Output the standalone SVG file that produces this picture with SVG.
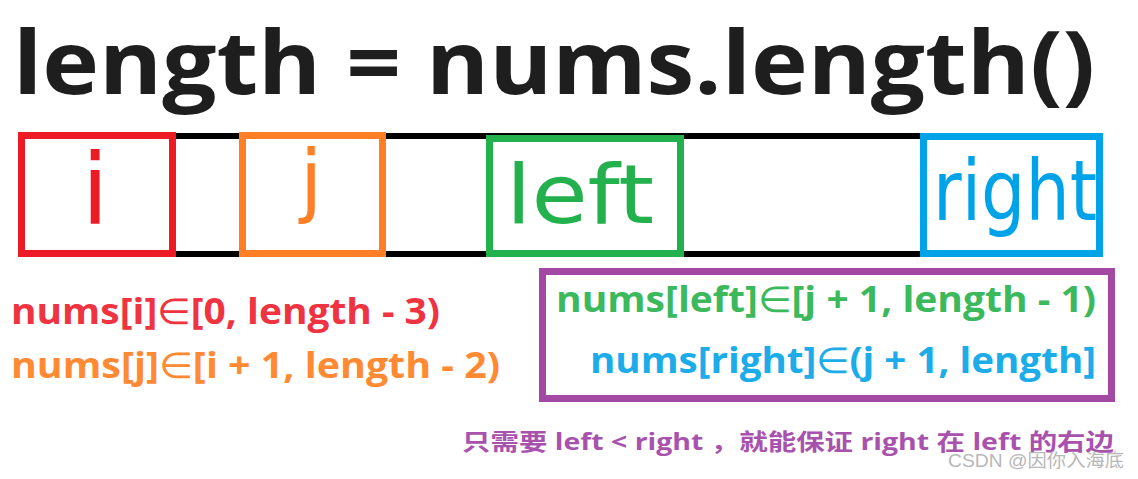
<svg xmlns="http://www.w3.org/2000/svg" width="1138" height="479" viewBox="0 0 1138 479">
  <style>
    .title { font-family: "Open Sans", "Liberation Sans", sans-serif; font-weight: 700; fill: #1e1e1e; }
    .hand { font-family: "DejaVu Sans", sans-serif; font-weight: 400; }
    .expr { font-family: "Open Sans", "Liberation Sans", sans-serif; font-weight: 700; font-size: 36px; }
    .sym { font-weight: 400; }
    .box { fill: none; stroke-width: 7; }
    .note { font-family: "Open Sans", "Noto Sans CJK SC", sans-serif; font-weight: 700; font-size: 23px; fill: #a852ae; }
    .wm { font-family: "Liberation Sans", "Noto Sans CJK SC", sans-serif; font-size: 18px; fill: #b8b8b8; }
  </style>
  <rect width="1138" height="479" fill="#ffffff"/>

  <g id="title">
    <text class="title" x="13" y="94" font-size="88" textLength="1082" lengthAdjust="spacingAndGlyphs">length = nums.length()</text>
  </g>

  <g id="connectors">
    <line x1="18" y1="136" x2="922" y2="136" stroke="#000000" stroke-width="6"/>
    <line x1="18" y1="254" x2="922" y2="254" stroke="#000000" stroke-width="6"/>
  </g>

  <g id="node-i">
    <rect class="box" x="21.5" y="135.5" width="151" height="118" stroke="#ed1c24" fill="#ffffff"/>
    <text class="hand" x="95" y="224" font-size="98" text-anchor="middle" fill="#ed1c24">i</text>
  </g>

  <g id="node-j">
    <rect class="box" x="242.5" y="135.5" width="140" height="118" stroke="#ff7f27" fill="#ffffff"/>
    <text class="hand" x="311" y="207" font-size="80" text-anchor="middle" fill="#ff7f27">j</text>
  </g>

  <g id="node-left">
    <rect class="box" x="489.5" y="138.5" width="191" height="115" stroke="#22b14c" fill="#ffffff"/>
    <text class="hand" x="506" y="223" font-size="82" textLength="148" lengthAdjust="spacingAndGlyphs" fill="#22b14c">left</text>
  </g>

  <g id="node-right">
    <rect class="box" x="923.5" y="136.5" width="176" height="117" stroke="#00a2e8" fill="#ffffff"/>
    <text class="hand" x="933" y="220" font-size="84" textLength="164" lengthAdjust="spacingAndGlyphs" fill="#00a2e8">right</text>
  </g>

  <g id="range-i">
    <text class="expr" x="11" y="324" fill="#ef3340" textLength="429" lengthAdjust="spacingAndGlyphs">nums[i]<tspan class="sym">∈</tspan>[0, length - 3)</text>
  </g>
  <g id="range-j">
    <text class="expr" x="11" y="378" fill="#ff8a33" textLength="489" lengthAdjust="spacingAndGlyphs">nums[j]<tspan class="sym">∈</tspan>[i + 1, length - 2)</text>
  </g>

  <g id="range-left-right">
    <rect class="box" x="542.5" y="271.5" width="569" height="127" stroke="#a349a4"/>
    <text class="expr" x="556" y="312" fill="#3cb95c" textLength="540" lengthAdjust="spacingAndGlyphs">nums[left]<tspan class="sym">∈</tspan>[j + 1, length - 1)</text>
    <text class="expr" x="590" y="373" fill="#1cace9" textLength="506" lengthAdjust="spacingAndGlyphs">nums[right]<tspan class="sym">∈</tspan>(j + 1, length]</text>
  </g>

  <g id="note">
    <text class="note" x="462" y="450" textLength="652" lengthAdjust="spacingAndGlyphs">只需要 left &lt; right ，就能保证 right 在 left 的右边</text>
  </g>

  <g id="watermark">
    <text class="wm" x="948" y="467" textLength="176" lengthAdjust="spacingAndGlyphs">CSDN @因你入海底</text>
  </g>
</svg>
